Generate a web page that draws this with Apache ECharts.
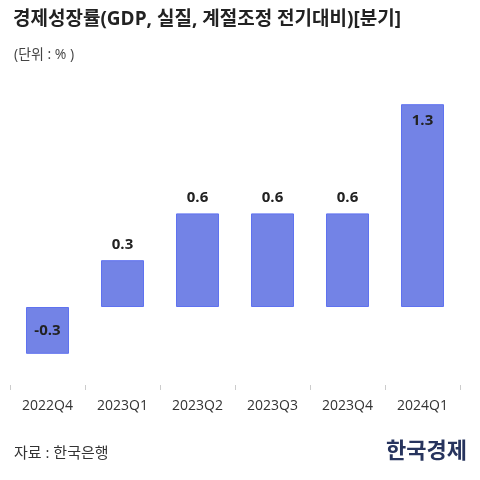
<!DOCTYPE html>
<html>
<head>
<meta charset="utf-8">
<script src="https://cdn.jsdelivr.net/npm/echarts@6/dist/echarts.min.js"></script>
<style>
html, body { margin: 0; padding: 0; background: #fff; }
#main { width: 480px; height: 480px; }
</style>
</head>
<body>
<div id="main"></div>
<script>
var quarters = ['2022Q4', '2023Q1', '2023Q2', '2023Q3', '2023Q4', '2024Q1'];
var growth = [-0.3, 0.3, 0.6, 0.6, 0.6, 1.3];

var myChart = echarts.init(document.getElementById('main'));
var font = '"Open Sans", "Noto Sans CJK KR", sans-serif';

myChart.setOption({
    animation: false,
    textStyle: { fontFamily: font },
    title: [
        {
            text: '경제성장률(GDP, 실질, 계절조정 전기대비)[분기]',
            left: 8, top: 5,
            textStyle: { fontSize: 19, fontWeight: 'bold', color: '#222', fontFamily: font }
        },
        {
            text: '(단위 : % )',
            left: 9, top: 43,
            textStyle: { fontSize: 14, fontWeight: 'normal', color: '#444', fontFamily: font }
        },
        {
            text: '자료 : 한국은행',
            left: 9, top: 441,
            textStyle: { fontSize: 15, fontWeight: 'normal', color: '#333', fontFamily: font }
        },
        {
            text: '한국경제',
            right: 8, top: 436,
            textStyle: { fontSize: 22, fontWeight: 'bold', color: '#27345e', fontFamily: font }
        }
    ],
    grid: { left: 10, right: 20, top: 73, bottom: 95, containLabel: false },
    xAxis: {
        type: 'category',
        data: quarters,
        axisLine: { show: false, onZero: false },
        axisTick: { show: true, length: 5, lineStyle: { color: '#ccc' } },
        axisLabel: { color: '#333', fontSize: 14, margin: 14 }
    },
    yAxis: {
        type: 'value',
        min: -0.5, max: 1.5,
        show: false
    },
    series: [{
        type: 'bar',
        barWidth: 43,
        data: growth.map(function (v) {
            return {
                value: v,
                label: { position: v > 1 ? 'insideTop' : (v < 0 ? 'inside' : 'top'), distance: v > 1 ? 9 : 8 }
            };
        }),
        itemStyle: { color: '#7383e6', borderColor: '#5f72f0', borderWidth: 1 },
        label: {
            show: true,
            fontSize: 15,
            fontWeight: 'bold',
            color: '#222'
        }
    }]
});
</script>
</body>
</html>
